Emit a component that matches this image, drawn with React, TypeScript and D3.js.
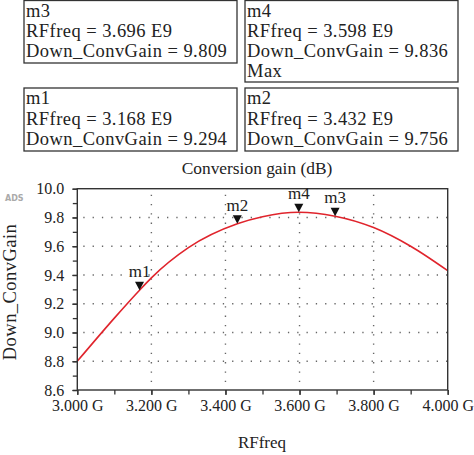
import React, { useEffect, useRef } from 'react';
import * as d3 from 'd3';

// curve samples (GHz, dB)
const freqs = [3.0, 3.1, 3.168, 3.2, 3.3, 3.432, 3.5, 3.598, 3.696, 3.8, 3.9, 4.0];
const gains = [8.8, 9.1, 9.294, 9.38, 9.59, 9.756, 9.805, 9.836, 9.809, 9.73, 9.6, 9.43];

// markers
const markerNames = ['m1', 'm2', 'm4', 'm3'];
const markerFreqs = [3.168, 3.432, 3.598, 3.696];
const markerGains = [9.294, 9.756, 9.836, 9.809];

// readout boxes, in display order
const boxNames = ['m3', 'm4', 'm1', 'm2'];
const boxFreqs = ['3.696', '3.598', '3.168', '3.432'];
const boxGains = ['9.809', '9.836', '9.294', '9.756'];
const boxExtra = ['', 'Max', '', ''];

const xTicks = [3.0, 3.2, 3.4, 3.6, 3.8, 4.0];
const yTicks = [8.6, 8.8, 9.0, 9.2, 9.4, 9.6, 9.8, 10.0];

const W = 474;
const H = 455;
const SERIF = '"Liberation Serif", "Times New Roman", serif';

const App: React.FC = () => {
  const ref = useRef<SVGSVGElement | null>(null);

  useEffect(() => {
    if (!ref.current) return;
    const svg = d3.select(ref.current);
    svg.selectAll('*').remove();

    const plot = { left: 77.3, right: 447.7, top: 188.7, bottom: 390 };

    const x = d3.scaleLinear().domain([3.0, 4.0]).range([plot.left, plot.right]);
    const y = d3.scaleLinear().domain([8.6, 10.0]).range([plot.bottom, plot.top]);

    svg.append('rect').attr('width', W).attr('height', H).attr('fill', '#fff');

    // readout boxes
    const boxPos = [
      { x: 24, y: 0.5, h: 62.5 },
      { x: 245, y: 0.5, h: 81.5 },
      { x: 24, y: 88, h: 63 },
      { x: 245, y: 88, h: 63 },
    ];
    boxNames.forEach((name, i) => {
      const p = boxPos[i];
      const g = svg.append('g').attr('transform', `translate(${p.x},${p.y})`);
      g.append('rect')
        .attr('width', 213)
        .attr('height', p.h)
        .attr('fill', '#fff')
        .attr('stroke', '#333')
        .attr('stroke-width', 1.3);
      const lines = [name, `RFfreq = ${boxFreqs[i]} E9`, `Down_ConvGain = ${boxGains[i]}`];
      if (boxExtra[i]) lines.push(boxExtra[i]);
      lines.forEach((t, j) => {
        g.append('text')
          .attr('x', 2)
          .attr('y', 16.3 + j * 20.2)
          .attr('font-family', SERIF)
          .attr('font-size', 18.5)
          .attr('letter-spacing', 0.45)
          .attr('fill', '#222')
          .text(t);
      });
    });

    // title
    svg.append('text')
      .attr('x', 257)
      .attr('y', 173.5)
      .attr('text-anchor', 'middle')
      .attr('font-family', SERIF)
      .attr('font-size', 17.4)
      .attr('fill', '#222')
      .text('Conversion gain (dB)');

    svg.append('text')
      .attr('x', 5)
      .attr('y', 201)
      .attr('font-family', 'DejaVu Sans, sans-serif')
      .attr('font-weight', 'bold')
      .attr('font-size', 8)
      .attr('fill', '#aaa')
      .text('ADS');

    // grid
    const grid = svg.append('g').attr('stroke', '#666').attr('stroke-width', 1.4).attr('stroke-dasharray', '1.3 8');
    yTicks.filter(v => v > 8.65 && v < 9.95).forEach(v => {
      grid.append('line')
        .attr('x1', plot.left + 6).attr('x2', plot.right)
        .attr('y1', y(v)).attr('y2', y(v));
    });
    xTicks.filter(v => v > 3.05 && v < 3.95).forEach(v => {
      grid.append('line')
        .attr('x1', x(v)).attr('x2', x(v))
        .attr('y1', plot.top + 6).attr('y2', plot.bottom);
    });

    // axes
    const xMinor = d3.range(3.0, 4.001, 0.1);
    const yMinor = d3.range(8.6, 10.001, 0.1);
    const gx = svg.append('g').attr('transform', `translate(0,${plot.bottom})`);
    gx.call(d3.axisBottom(x).tickValues(xMinor).tickSize(4.5).tickFormat(() => ''));
    gx.select('.domain').remove();
    const gx2 = svg.append('g').attr('transform', `translate(0,${plot.bottom})`);
    gx2.call(
      d3.axisBottom(x).tickValues(xTicks).tickSize(5).tickPadding(5).tickFormat(d => `${d3.format('.3f')(d as number)} G`),
    );
    gx2.select('.domain').remove();

    const gy = svg.append('g').attr('transform', `translate(${plot.left},0)`);
    gy.call(d3.axisLeft(y).tickValues(yMinor).tickSize(4.5).tickFormat(() => ''));
    gy.select('.domain').remove();
    const gy2 = svg.append('g').attr('transform', `translate(${plot.left},0)`);
    gy2.call(d3.axisLeft(y).tickValues(yTicks).tickSize(5).tickPadding(8).tickFormat(d3.format('.1f')));
    gy2.select('.domain').remove();

    svg.selectAll('.tick line').attr('stroke', '#333').attr('stroke-width', 1.3);
    svg.selectAll('.tick text')
      .attr('font-family', SERIF)
      .attr('font-size', 16)
      .attr('fill', '#222');

    // curve
    const pts = freqs.map((f, i) => [f, gains[i]] as [number, number]);
    const line = d3.line<[number, number]>()
      .x(d => x(d[0]))
      .y(d => y(d[1]))
      .curve(d3.curveMonotoneX);
    svg.append('path')
      .datum(pts)
      .attr('fill', 'none')
      .attr('stroke', '#e0242c')
      .attr('stroke-width', 1.6)
      .attr('d', line);

    // frame
    svg.append('rect')
      .attr('x', plot.left)
      .attr('y', plot.top)
      .attr('width', plot.right - plot.left)
      .attr('height', plot.bottom - plot.top)
      .attr('fill', 'none')
      .attr('stroke', '#333')
      .attr('stroke-width', 1.4);

    // markers
    markerNames.forEach((name, i) => {
      const px = x(markerFreqs[i]);
      const py = y(markerGains[i]);
      svg.append('path')
        .attr('d', `M${px},${py}L${px - 4.5},${py - 8.5}L${px + 4.5},${py - 8.5}Z`)
        .attr('fill', '#111');
      svg.append('text')
        .attr('x', px)
        .attr('y', py - 13)
        .attr('text-anchor', 'middle')
        .attr('font-family', SERIF)
        .attr('font-size', 17)
        .attr('fill', '#222')
        .text(name);
    });

    // axis titles
    svg.append('text')
      .attr('x', 262)
      .attr('y', 448)
      .attr('text-anchor', 'middle')
      .attr('font-family', SERIF)
      .attr('font-size', 17)
      .attr('fill', '#222')
      .text('RFfreq');
    svg.append('text')
      .attr('transform', 'translate(15.5,292) rotate(-90)')
      .attr('text-anchor', 'middle')
      .attr('font-family', SERIF)
      .attr('font-size', 18.5)
      .attr('letter-spacing', 0.45)
      .attr('fill', '#222')
      .text('Down_ConvGain');
  }, []);

  return <svg ref={ref} width={W} height={H} style={{ position: 'absolute', left: 0, top: 0 }} />;
};

export default App;
